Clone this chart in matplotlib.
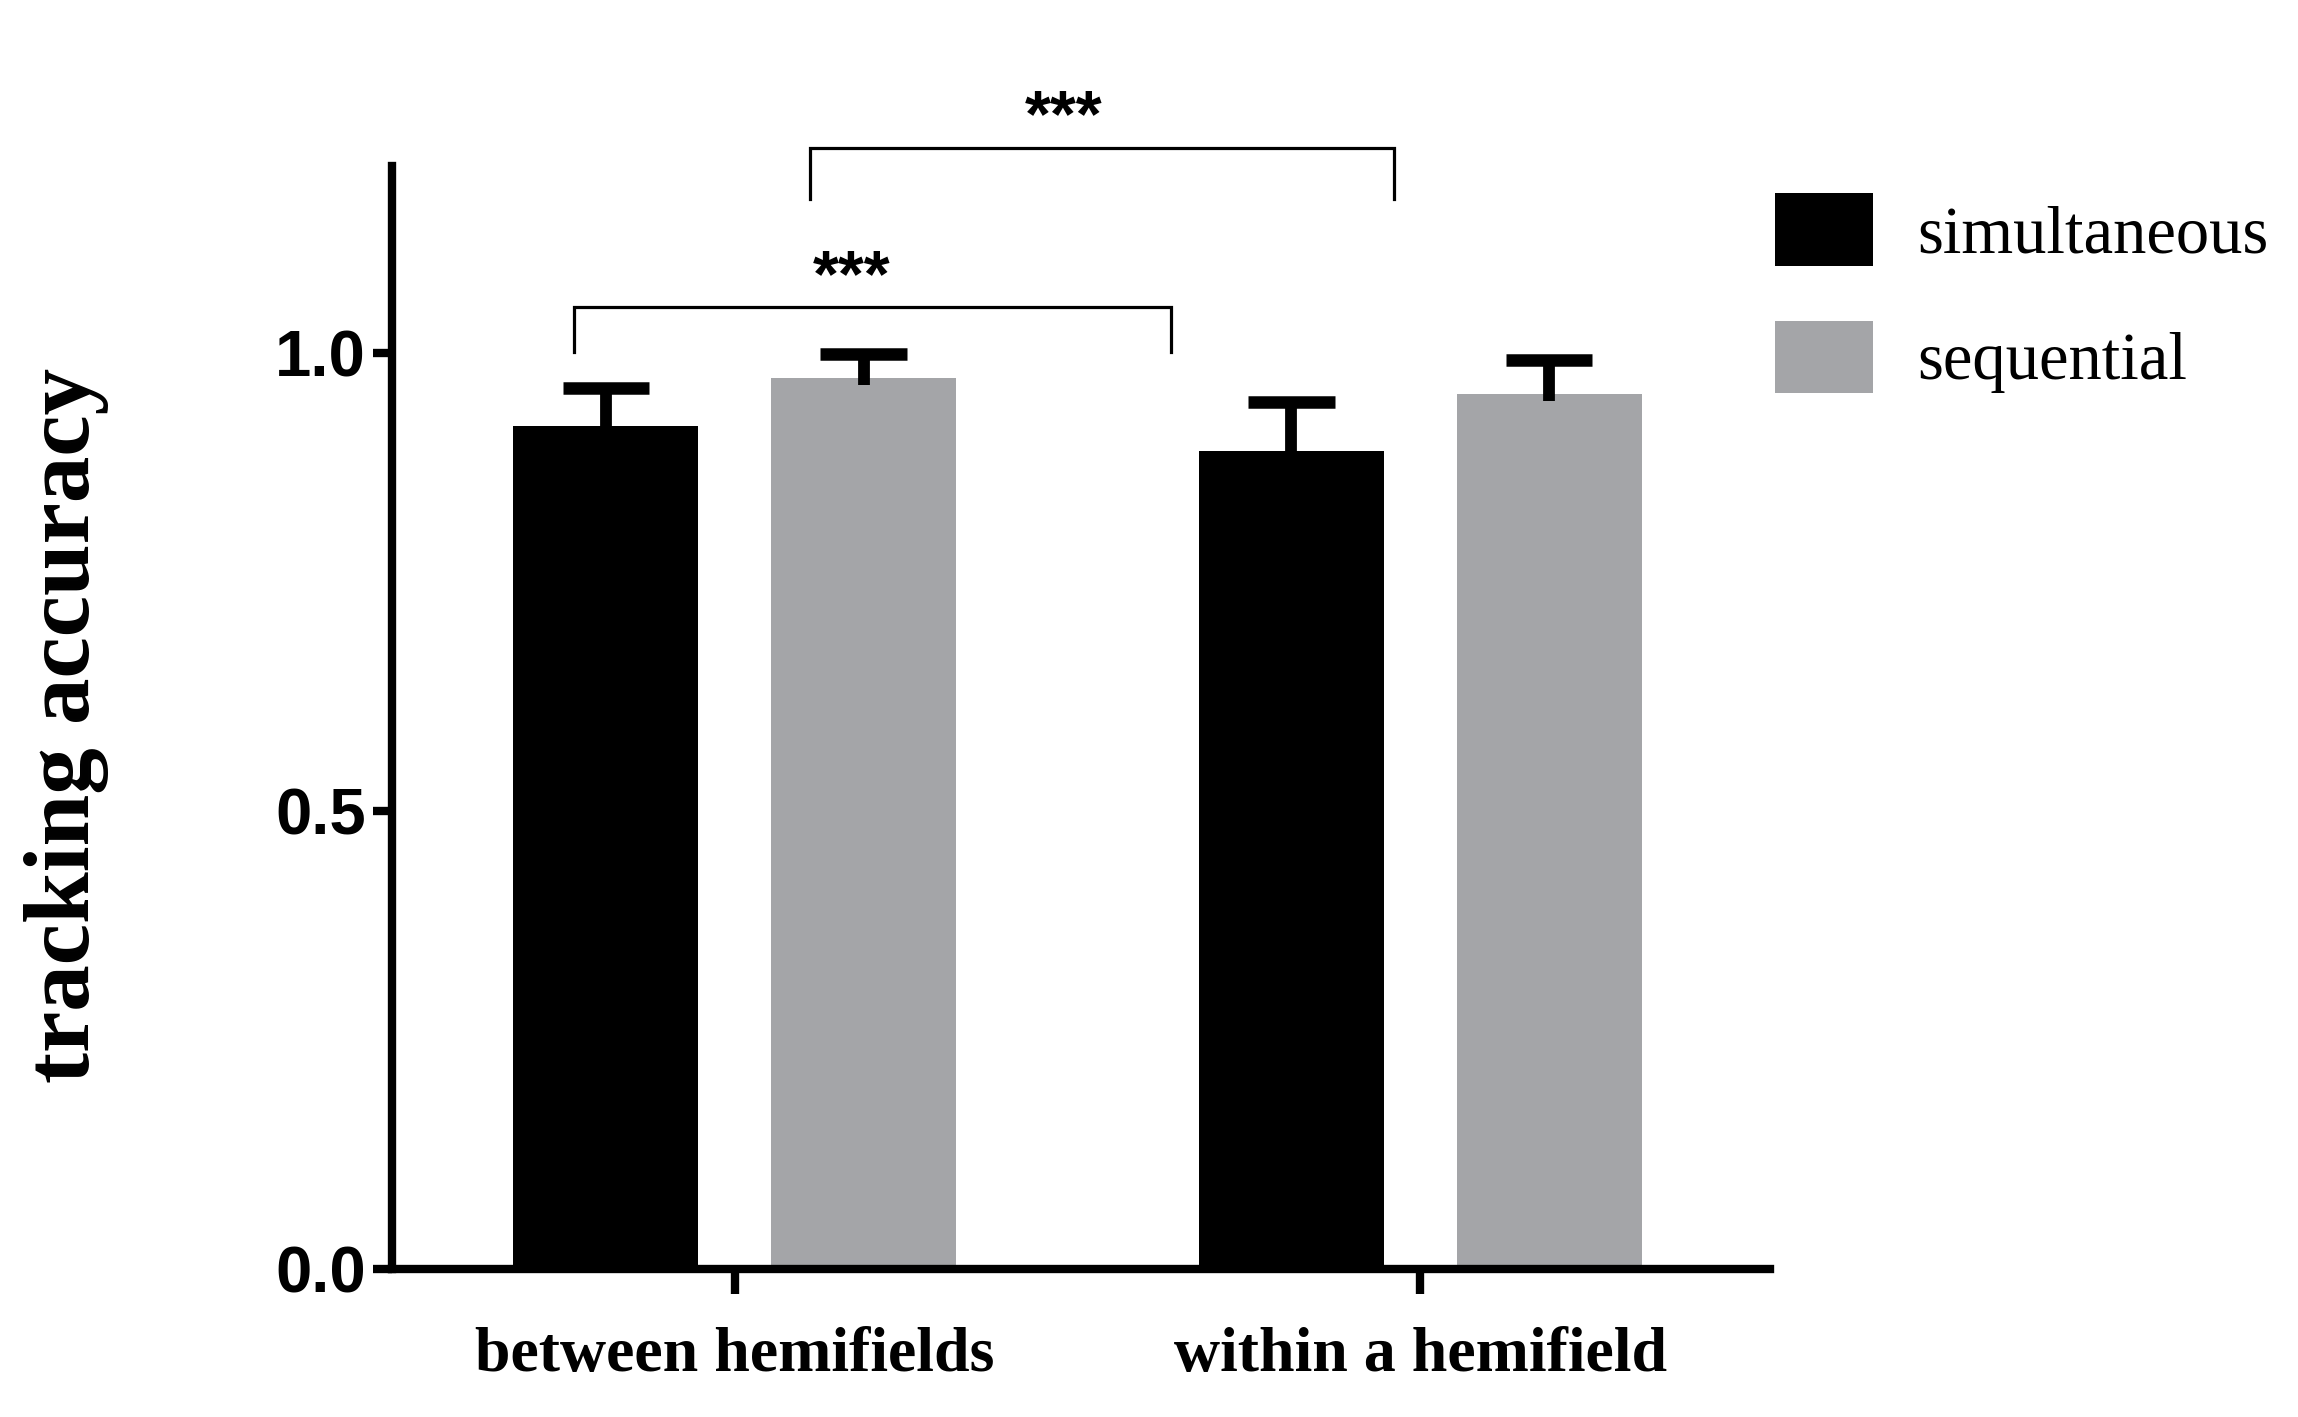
import numpy as np
import matplotlib
matplotlib.use("Agg")
import matplotlib.pyplot as plt
from matplotlib import font_manager

# data
groups = ["between hemifields", "within a hemifield"]
conditions = ["simultaneous", "sequential"]
colors = ["#000000", "#a4a5a8"]
means = {
    "simultaneous": [0.920, 0.893],
    "sequential": [0.973, 0.955],
}
err_up = {
    "simultaneous": [0.042, 0.053],
    "sequential": [0.026, 0.037],
}
y_ticks = [0.0, 0.5, 1.0]
tick_labels = ["0.0", "0.5", "1.0"]
# significance brackets: (x_left, x_right, y_top, y_ends, label, x_label, y_label)
brackets = [
    (-0.234, 0.636, 1.050, 1.001, "***", 0.171, 1.081),
    (0.109, 0.962, 1.224, 1.168, "***", 0.479, 1.255),
]


def pick(*names):
    have = {f.name for f in font_manager.fontManager.ttflist}
    for n in names:
        if n in have:
            return n
    return "DejaVu Sans"


sans_narrow = pick("Liberation Sans Narrow", "DejaVu Sans Condensed", "Liberation Sans")
serif = pick("Liberation Serif", "DejaVu Serif")

fig = plt.figure(figsize=(22.98, 14.17), dpi=100)
ax = fig.add_axes([0.1706, 0.1044, 0.5996, 0.7785])

x = np.arange(len(groups))
width = 0.27
offsets = [-0.188, 0.188]
handles = []
for cond, off, col in zip(conditions, offsets, colors):
    m = np.array(means[cond])
    e = np.array(err_up[cond])
    b = ax.bar(x + off, m, width, color=col, label=cond, zorder=2)
    handles.append(b)
    ax.vlines(x + off, m - 0.008, m + e, color="black", lw=8.5, zorder=3)
    ax.hlines(m + e, x + off - 0.063, x + off + 0.063, color="black", lw=9, zorder=3)

for xl, xr, yt, ye, lab, xt, yt2 in brackets:
    ax.plot([xl, xl, xr, xr], [ye, yt, yt, ye], color="black", lw=2.3,
            clip_on=False, solid_joinstyle="miter")
    ax.text(xt, yt2, lab, ha="center", va="center", fontsize=48,
            family=sans_narrow, fontweight="bold", clip_on=False)

ax.set_xlim(-0.5, 1.51)
ax.set_ylim(0, 1.204)
ax.set_yticks(y_ticks)
ax.set_yticklabels(tick_labels, family=sans_narrow, fontweight="bold", fontsize=47)
ax.set_xticks(x)
ax.set_xticklabels(groups, family=serif, fontweight="bold", fontsize=46)
ax.tick_params(axis="y", length=14, width=6, pad=5)
ax.tick_params(axis="x", length=18, width=6, pad=24)

for s in ["top", "right"]:
    ax.spines[s].set_visible(False)
for s in ["left", "bottom"]:
    ax.spines[s].set_linewidth(6)

fig.text(0.029, 0.488, "tracking accuracy", rotation=90, ha="center", va="center",
         family=serif, fontweight="bold", fontsize=67)

fig.legend(handles=handles, labels=conditions, loc="upper left",
           bbox_to_anchor=(0.7724, 0.8635), frameon=False,
           prop={"family": serif, "size": 48},
           handlelength=1.47, handleheight=1.3, handletextpad=0.66,
           labelspacing=0.82, borderaxespad=0, borderpad=0)

fig.savefig("out.png", dpi=100)
